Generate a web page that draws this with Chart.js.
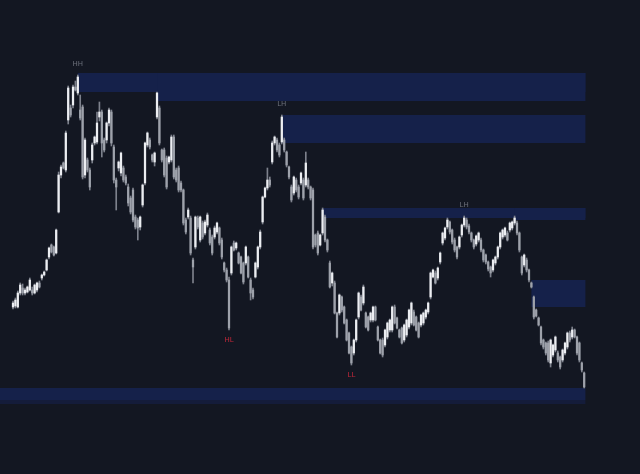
<!DOCTYPE html>
<html>
<head>
<meta charset="utf-8">
<script src="https://cdn.jsdelivr.net/npm/chart.js@4.4.1/dist/chart.umd.min.js"></script>
<style>
  html, body { margin: 0; padding: 0; background: #131722; }
  canvas { display: block; }
</style>
</head>
<body>
<canvas id="price-chart" width="640" height="474"></canvas>
<script>
// candles, one per bar: [open, high, low, close]
const ohlc = [
  [167,173,165,171],[168,176,166,174],[167,183,166,181],[181,191,179,189],[186,190,179,181],
  [181,186,179,184],[182,188,181,187],[184,196,183,194],[184,187,179,181],[181,190,180,189],
  [184,192,182,191],[191,193,186,187],[196,200,194,199],[199,203,198,202],[204,215,203,214],
  [217,227,215,226],[229,230,221,222],[227,228,218,219],[221,245,220,244],[262,302,261,299],
  [299,309,296,307],[311,312,305,306],[304,343,302,341],[354,388,350,386],[366,369,357,359],
  [369,389,366,387],[387,393,383,384],[381,399,379,397],[364,379,354,356],[367,369,295,297],
  [299,336,296,334],[314,316,302,304],[304,306,284,287],[314,331,311,329],[331,338,329,337],
  [332,362,330,351],[357,372,353,362],[362,364,317,331],[334,336,322,324],[334,352,331,351],
  [351,366,348,364],[362,364,328,331],[327,329,291,294],[294,296,264,287],[306,313,303,312],
  [301,322,298,321],[306,308,292,294],[297,299,289,291],[287,290,268,271],[276,278,260,262],
  [284,286,252,254],[257,259,245,247],[254,256,234,246],[247,258,244,257],[269,290,267,289],
  [291,332,289,331],[329,342,327,341],[334,336,325,327],[319,320,312,314],[312,322,308,321],
  [357,382,355,381],[366,368,329,331],[324,325,312,314],[324,326,297,299],[316,318,285,287],
  [312,318,310,317],[314,339,312,337],[337,339,295,297],[304,306,292,294],[306,308,282,284],
  [291,293,282,284],[284,285,249,251],[254,256,240,242],[257,266,255,264],[256,258,219,221],
  [214,216,191,207],[227,258,225,257],[256,258,245,247],[234,258,232,257],[251,253,235,237],
  [241,254,239,252],[249,261,247,259],[244,246,229,231],[237,239,219,221],[237,248,235,246],
  [242,252,240,251],[246,247,229,231],[234,236,215,217],[211,212,202,204],[204,206,192,194],
  [194,197,144,146],[201,228,199,227],[231,233,223,224],[226,232,224,231],[221,222,210,211],
  [217,218,200,201],[211,212,190,192],[211,228,209,227],[217,218,196,197],[194,196,174,181],
  [184,186,175,177],[197,212,196,211],[207,228,205,227],[227,244,225,242],[252,278,250,277],
  [277,287,276,286],[286,306,284,294],[294,297,287,289],[312,333,310,331],[331,338,329,337],
  [334,336,322,324],[329,331,317,319],[332,359,330,357],[334,336,322,324],[322,323,307,309],
  [307,308,295,297],[287,289,272,274],[281,298,279,297],[294,296,282,284],[287,289,275,277],
  [291,302,289,301],[294,296,274,276],[289,322,287,311],[294,296,285,287],[287,288,274,276],
  [284,286,225,227],[239,240,227,229],[241,243,219,221],[229,240,228,239],[241,266,239,264],
  [257,259,232,234],[234,235,222,224],[211,213,186,187],[191,202,188,201],[191,193,160,161],
  [161,162,136,137],[161,180,159,179],[177,178,162,164],[167,168,150,151],[154,155,133,134],
  [141,142,120,121],[127,128,109,111],[121,135,119,134],[134,155,132,154],[157,182,155,181],
  [177,179,163,164],[171,189,169,187],[161,162,146,147],[157,158,143,144],[154,162,152,161],
  [154,168,152,167],[167,168,153,154],[147,148,133,134],[134,135,120,121],[134,136,117,119],
  [129,145,127,144],[137,152,135,151],[144,155,142,154],[144,168,142,167],[167,169,150,151],
  [156,157,145,146],[144,145,136,137],[146,147,130,131],[134,150,132,149],[139,155,137,154],
  [147,165,145,164],[151,172,149,171],[162,164,148,149],[157,158,143,144],[151,152,136,137],
  [149,160,147,159],[151,162,149,161],[157,165,155,164],[162,172,160,171],[177,202,175,201],
  [197,205,196,204],[201,203,190,191],[196,207,194,206],[212,222,210,221],[231,242,229,241],
  [236,247,234,246],[247,256,245,254],[252,253,240,242],[244,245,230,232],[234,236,222,224],
  [227,228,215,217],[227,238,225,237],[239,250,237,249],[249,258,247,256],[254,256,245,247],
  [248,250,240,242],[241,242,232,234],[234,235,225,227],[230,239,228,238],[234,242,232,241],
  [234,236,222,224],[224,225,212,214],[219,220,210,212],[212,213,203,205],[207,208,197,201],
  [204,215,202,214],[211,218,209,217],[217,228,215,227],[227,242,225,241],[237,245,235,244],
  [239,247,237,246],[241,243,233,234],[244,252,242,251],[246,253,244,252],[251,258,249,256],
  [251,253,239,241],[241,242,222,224],[217,218,199,201],[209,220,207,219],[214,216,202,204],
  [204,205,192,194],[191,192,186,187],[177,178,155,157],[164,165,157,158],[156,157,148,149],
  [147,148,129,131],[134,135,125,127],[131,132,119,121],[131,133,112,114],[111,135,107,134],
  [119,130,117,129],[124,138,122,137],[121,123,112,114],[117,118,105,107],[114,125,112,124],
  [121,132,119,131],[127,142,125,141],[141,143,132,134],[137,147,135,144],[144,145,136,137],
  [137,138,119,121],[131,132,112,114],[111,112,102,104],[101,102,86,87]
];

// supply / demand zones: start bar (null = from the left edge), top price, bottom price
const zoneStart  = [27, 60, 112, 129, 209, 216, null, null];
const zoneTop    = [401, 401, 359, 266, 266, 194, 86, 74];
const zoneBottom = [382, 373, 331, 256, 254, 167, 74, 70];

// swing labels: bar index, text, above or below the bar
const swingBars  = [27, 112, 188, 90, 141];
const swingTexts = ['HH', 'LH', 'LH', 'HL', 'LL'];
const swingSide  = ['above', 'above', 'above', 'below', 'below'];

const UP = '#eceef2';
const DOWN = '#9ea2ab';
const WICK = '#7d818c';

const bodies = ohlc.map((c, i) => ({ x: i, y: [c[0], c[3]] }));
const wicks = ohlc.map((c, i) => ({ x: i, y: [c[2], c[1]] }));
const bodyColors = ohlc.map(c => (c[3] >= c[0] ? UP : DOWN));

const backgroundPlugin = {
    id: 'bg',
    beforeDraw(chart) {
        const ctx = chart.ctx;
        ctx.save();
        ctx.fillStyle = '#131722';
        ctx.fillRect(0, 0, chart.width, chart.height);
        ctx.restore();
    }
};

const zonesPlugin = {
    id: 'zones',
    beforeDatasetsDraw(chart) {
        const ctx = chart.ctx;
        const xs = chart.scales.x;
        const ys = chart.scales.y;
        const right = xs.getPixelForValue(ohlc.length - 0.5);
        ctx.save();
        zoneTop.forEach((top, k) => {
            const left = zoneStart[k] === null ? 0 : xs.getPixelForValue(zoneStart[k]);
            const y1 = ys.getPixelForValue(top);
            const y2 = ys.getPixelForValue(zoneBottom[k]);
            ctx.fillStyle = k === 7 ? '#141c3a' : '#15214a';
            ctx.fillRect(left, y1, right - left, y2 - y1);
        });
        ctx.restore();
    }
};

const labelsPlugin = {
    id: 'swingLabels',
    afterDatasetsDraw(chart) {
        const ctx = chart.ctx;
        const xs = chart.scales.x;
        const ys = chart.scales.y;
        ctx.save();
        ctx.font = '7px "DejaVu Sans", sans-serif';
        ctx.textAlign = 'center';
        ctx.textBaseline = 'middle';
        swingBars.forEach((bar, k) => {
            const c = ohlc[bar];
            const x = xs.getPixelForValue(bar);
            let y;
            if (swingSide[k] === 'above') {
                ctx.fillStyle = '#6c707b';
                y = ys.getPixelForValue(c[1]) - 11;
            } else {
                ctx.fillStyle = '#c2283a';
                y = ys.getPixelForValue(c[2]) + 10;
            }
            ctx.fillText(swingTexts[k], x, y);
        });
        ctx.restore();
    }
};

document.addEventListener('DOMContentLoaded', () => {
    const ctx = document.getElementById('price-chart').getContext('2d');
    new Chart(ctx, {
        type: 'bar',
        data: {
            datasets: [{
                label: 'Body',
                data: bodies,
                backgroundColor: bodyColors,
                barThickness: 1.6,
                minBarLength: 1,
                grouped: false,
                order: 0
            }, {
                label: 'Wick',
                data: wicks,
                backgroundColor: WICK,
                barThickness: 1,
                grouped: false,
                order: 1
            }]
        },
        options: {
            responsive: false,
            animation: false,
            layout: { padding: 0 },
            plugins: {
                legend: { display: false },
                tooltip: { enabled: false }
            },
            scales: {
                x: { type: 'linear', offset: false, bounds: 'ticks', min: -5.42, max: 261.25, display: false },
                y: { min: 0, max: 474, display: false }
            }
        },
        plugins: [backgroundPlugin, zonesPlugin, labelsPlugin]
    });
});
</script>
</body>
</html>
